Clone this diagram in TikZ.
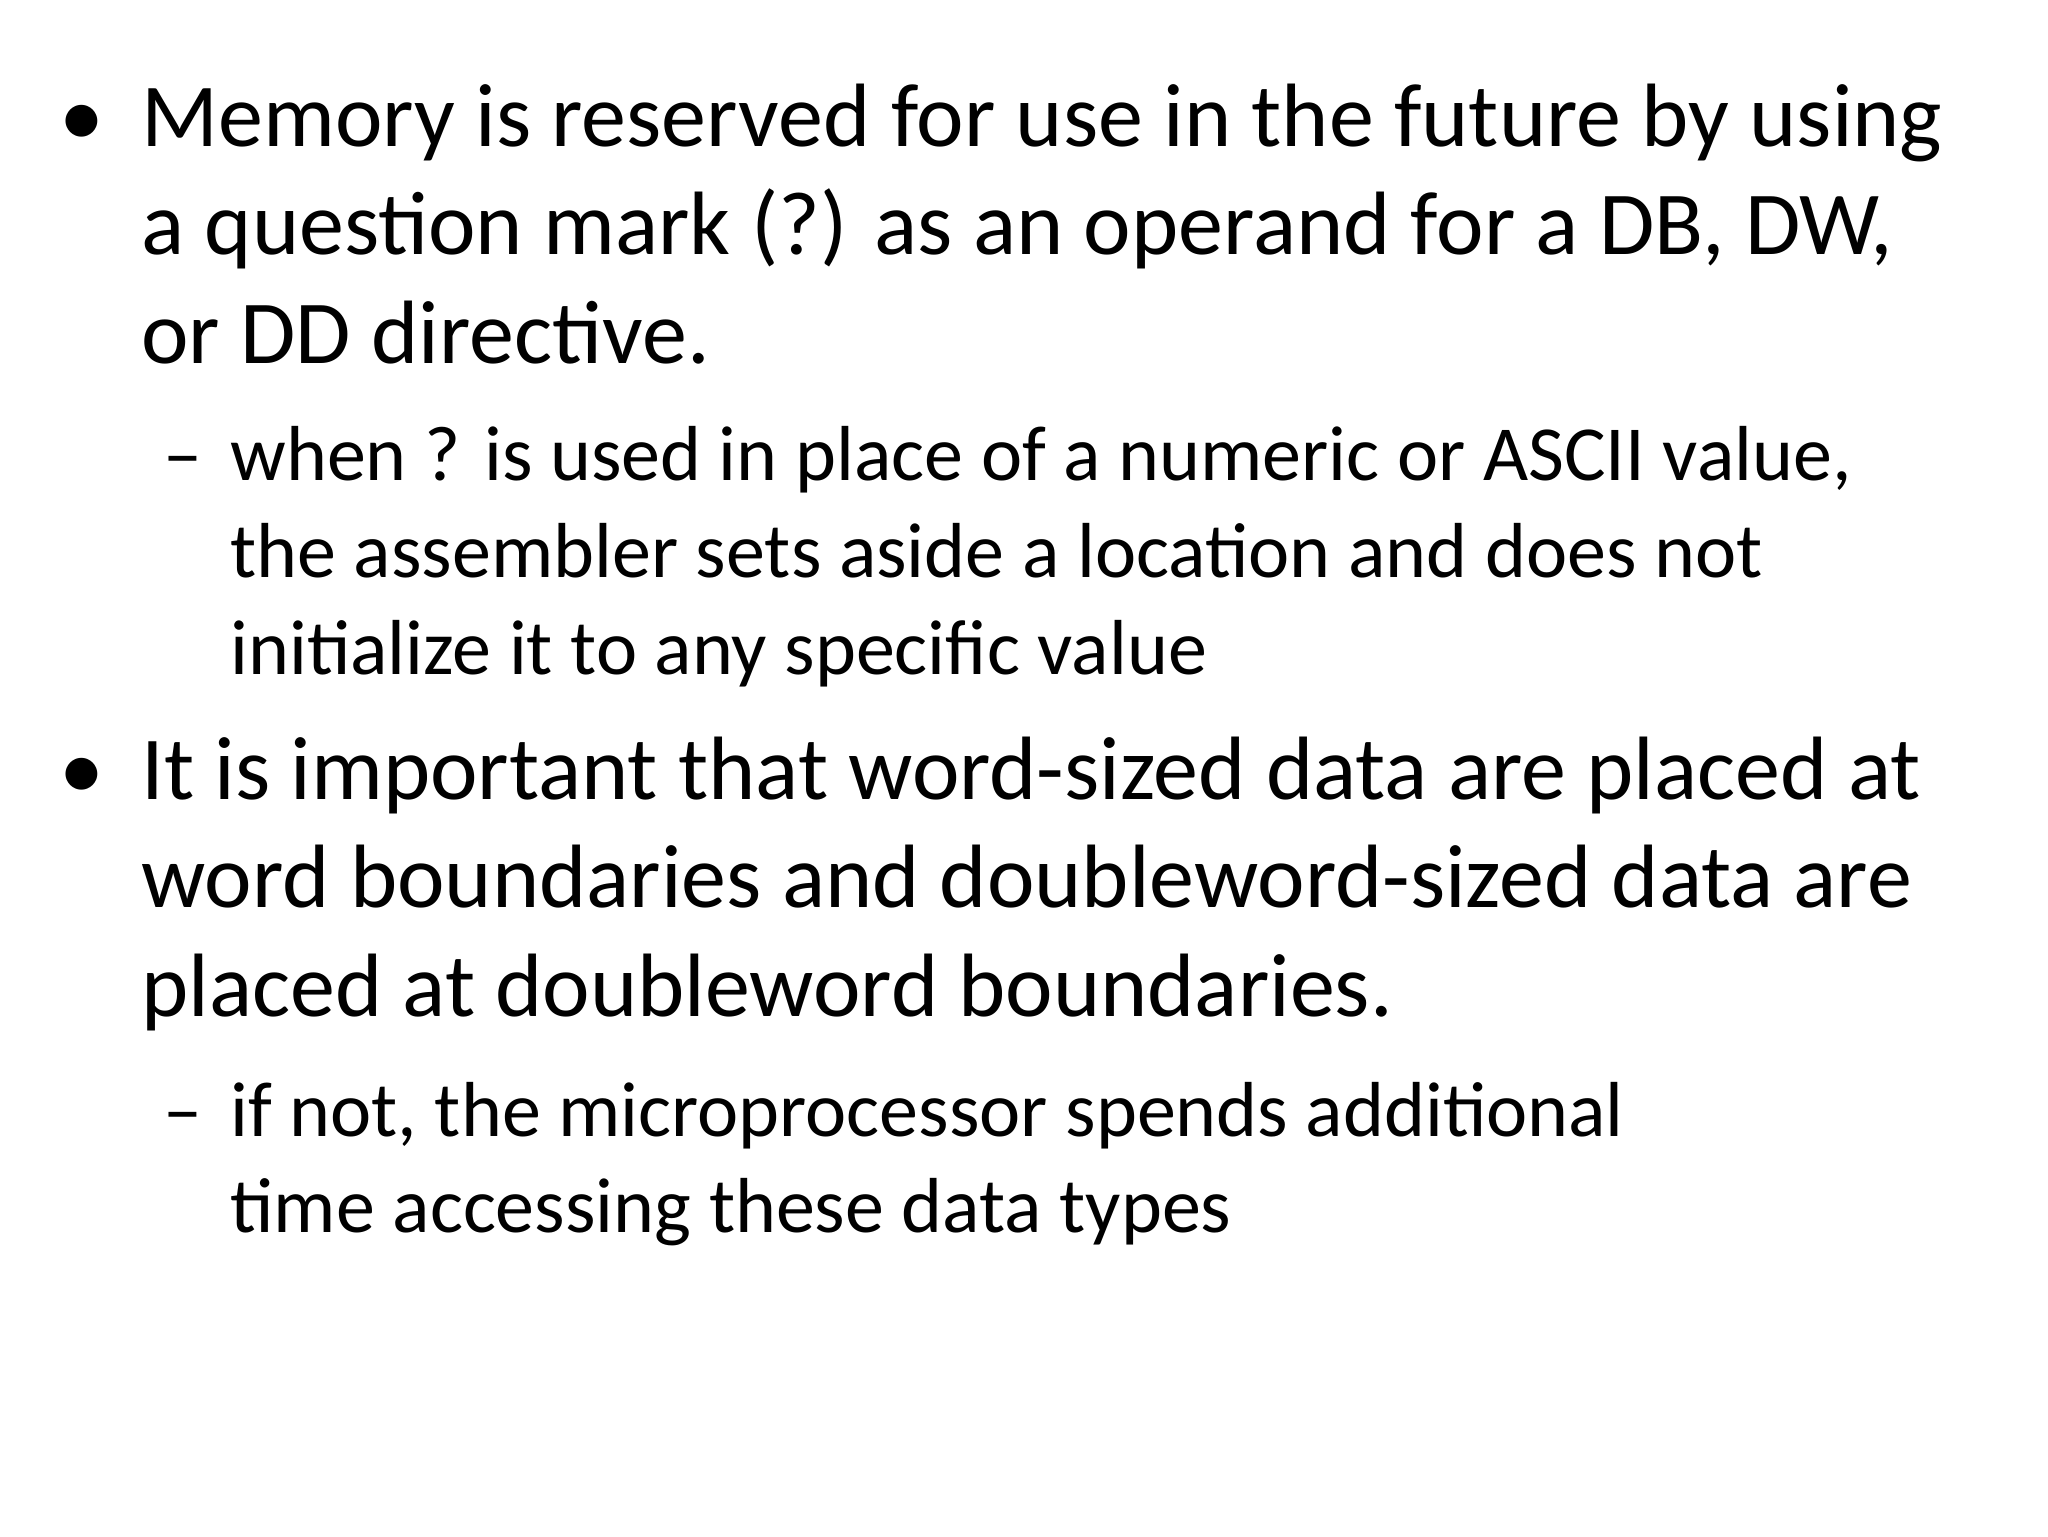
\documentclass[tikz,border=0pt]{standalone}
\usepackage{fontspec}
\setmainfont{Carlito}
\begin{document}
\begin{tikzpicture}[x=1pt,y=1pt,
  big/.style={anchor=base west,inner sep=0pt,font=\fontsize{45}{54}\selectfont},
  small/.style={anchor=base west,inner sep=0pt,font=\fontsize{39}{47}\selectfont}]
\useasboundingbox[fill=white] (0,0) rectangle (1024,-768);
\node[big] (b1) at (29.4,-73.1) {•};
\node[big] (l1) at (70.5,-73.1) {Memory is reserved for use in the future by using};
\node[big] (l2) at (70.5,-127.3) {a question mark (?) as an operand for a DB, DW,};
\node[big] (l3) at (70.5,-181.5) {or DD directive.};
\node[small] (d1) at (81.6,-240.3) {–};
\node[small] (s1) at (115,-240.3) {when ? is used in place of a numeric or ASCII value,};
\node[small] (s2) at (115,-288.6) {the assembler sets aside a location and does not};
\node[small] (s3) at (115,-337) {initialize it to any specific value};
\node[big] (b2) at (29.4,-399.6) {•};
\node[big] (m1) at (70.5,-399.6) {It is important that word-sized data are placed at};
\node[big] (m2) at (70.5,-453.8) {word boundaries and doubleword-sized data are};
\node[big] (m3) at (70.5,-508) {placed at doubleword boundaries.};
\node[small] (d2) at (81.6,-568) {–};
\node[small] (t1) at (115,-568) {if not, the microprocessor spends additional};
\node[small] (t2) at (115,-616.4) {time accessing these data types};
\end{tikzpicture}
\end{document}
